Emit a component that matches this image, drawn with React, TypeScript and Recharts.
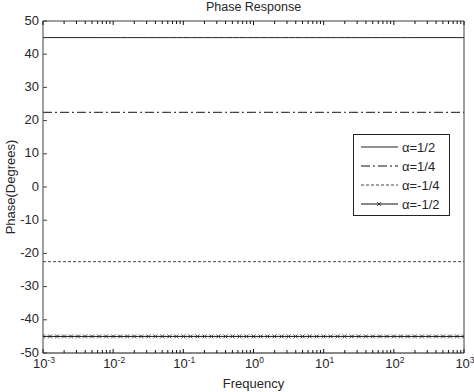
import { Line, LineChart, XAxis, YAxis } from "recharts";

// frequency points (log10 exponent), -3 .. 3
const freqExponents = [
  -3, -2.9, -2.8, -2.7, -2.6, -2.5, -2.4, -2.3, -2.2, -2.1,
  -2, -1.9, -1.8, -1.7, -1.6, -1.5, -1.4, -1.3, -1.2, -1.1,
  -1, -0.9, -0.8, -0.7, -0.6, -0.5, -0.4, -0.3, -0.2, -0.1,
  0, 0.1, 0.2, 0.3, 0.4, 0.5, 0.6, 0.7, 0.8, 0.9,
  1, 1.1, 1.2, 1.3, 1.4, 1.5, 1.6, 1.7, 1.8, 1.9,
  2, 2.1, 2.2, 2.3, 2.4, 2.5, 2.6, 2.7, 2.8, 2.9, 3,
];

const seriesNames = ["α=1/2", "α=1/4", "α=-1/4", "α=-1/2"];
const seriesPhase = [45, 22.5, -22.5, -45];

const decades = [-3, -2, -1, 0, 1, 2, 3];
const minorMult = [1, 2, 3, 4, 5, 6, 7, 8, 9];
const yTicks = [-50, -40, -30, -20, -10, 0, 10, 20, 30, 40, 50];

const xTicks: number[] = [];
decades.forEach((d) => {
  if (d === 3) {
    xTicks.push(1000);
    return;
  }
  minorMult.forEach((m) => xTicks.push(Number((m * Math.pow(10, d)).toPrecision(3))));
});

const data = freqExponents.map((e) => {
  const row: Record<string, number> = { f: Math.pow(10, e) };
  seriesNames.forEach((n, i) => {
    row[n] = seriesPhase[i];
  });
  return row;
});

const FONT = "'Liberation Sans', Arial, sans-serif";
const TXT = "#262626";
const AX = "#404040";

const isDecade = (v: number) => {
  const l = Math.log10(v);
  return Math.abs(l - Math.round(l)) < 1e-6;
};

const BottomTick = (props: any) => {
  const { x, y, payload } = props;
  const v = payload.value;
  const major = isDecade(v);
  const exp = Math.round(Math.log10(v));
  return (
    <g>
      <line x1={x} y1={y} x2={x} y2={y - (major ? 4 : 3)} stroke="#111" strokeWidth={1} />
      {major && (
        <text x={x + 1} y={y + 15} fontFamily={FONT} fontSize={13} fill={TXT} textAnchor="middle">
          <tspan>10</tspan>
          <tspan dy={-5} fontSize={8.5}>{exp}</tspan>
        </text>
      )}
    </g>
  );
};

const TopTick = (props: any) => {
  const { x, y, payload } = props;
  const major = isDecade(payload.value);
  return <line x1={x} y1={y} x2={x} y2={y + (major ? 4 : 3)} stroke="#111" strokeWidth={1} />;
};

const LeftTick = (props: any) => {
  const { x, y, payload } = props;
  return (
    <g>
      <line x1={x} y1={y} x2={x + 4} y2={y} stroke={AX} strokeWidth={1} />
      <text x={x - 4} y={y + 3.5} fontFamily={FONT} fontSize={13} fill={TXT} textAnchor="end">
        {payload.value}
      </text>
    </g>
  );
};

const RightTick = (props: any) => {
  const { x, y } = props;
  return <line x1={x} y1={y} x2={x - 4} y2={y} stroke={AX} strokeWidth={1} />;
};

const XDot = (props: any) => {
  const { cx, cy } = props;
  if (cx == null || cy == null) return null;
  const s = 2;
  return (
    <g stroke="#222" strokeWidth={0.8}>
      <line x1={cx - s} y1={cy - s} x2={cx + s} y2={cy + s} />
      <line x1={cx - s} y1={cy + s} x2={cx + s} y2={cy - s} />
    </g>
  );
};

const dashes = [undefined, "9 3 2 3", "3 2", undefined];
const colors = ["#222", "#111", "#444", "#111"];

const LegendBox = () => (
  <svg width={97} height={82}>
    <rect x={0.5} y={0.5} width={96} height={81} fill="#fff" stroke="#222" />
    {seriesNames.map((n, i) => {
      const yy = 13 + i * 19;
      return (
        <g key={n}>
          <line x1={8} y1={yy} x2={45} y2={yy} stroke={colors[i]} strokeDasharray={dashes[i]} />
          {i === 3 && <XDot cx={26} cy={yy} />}
          <text x={49} y={yy + 4.5} fontFamily={FONT} fontSize={13} fill={TXT}>
            {n}
          </text>
        </g>
      );
    })}
  </svg>
);

export default function App() {
  return (
    <div style={{ position: "absolute", left: 0, top: 0, width: 474, height: 392, background: "#fff" }}>
      <LineChart
        width={474}
        height={392}
        data={data}
        margin={{ top: 0, right: 0, bottom: 0, left: 0 }}
        style={{ position: "absolute", left: 0, top: 0 }}
      >
        <XAxis
          xAxisId="b"
          dataKey="f"
          type="number"
          scale="log"
          domain={[0.001, 1000]}
          allowDataOverflow
          ticks={xTicks}
          interval={0}
          height={39}
          tickSize={0}
          tickMargin={0}
          tickLine={false}
          stroke="#111"
          tick={<BottomTick />}
        />
        <XAxis
          xAxisId="t"
          orientation="top"
          dataKey="f"
          type="number"
          scale="log"
          domain={[0.001, 1000]}
          allowDataOverflow
          ticks={xTicks}
          interval={0}
          height={21}
          tickSize={0}
          tickMargin={0}
          tickLine={false}
          stroke={AX}
          tick={<TopTick />}
        />
        <YAxis
          yAxisId="l"
          domain={[-50, 50]}
          ticks={yTicks}
          interval={0}
          width={43}
          tickSize={0}
          tickMargin={0}
          tickLine={false}
          stroke={AX}
          tick={<LeftTick />}
        />
        <YAxis
          yAxisId="r"
          orientation="right"
          domain={[-50, 50]}
          ticks={yTicks}
          interval={0}
          width={10}
          tickSize={0}
          tickMargin={0}
          tickLine={false}
          stroke={AX}
          tick={<RightTick />}
        />
        {seriesNames.map((n, i) => (
          <Line
            key={n}
            xAxisId="b"
            yAxisId="l"
            dataKey={n}
            type="linear"
            stroke={colors[i]}
            strokeWidth={1}
            strokeDasharray={dashes[i]}
            dot={i === 3 ? <XDot /> : false}
            isAnimationActive={false}
          />
        ))}
      </LineChart>
      <div
        style={{
          position: "absolute", left: 43, width: 421, top: 0, textAlign: "center",
          fontFamily: FONT, fontSize: 12.5, color: TXT, lineHeight: "15px",
        }}
      >
        Phase Response
      </div>
      <div
        style={{
          position: "absolute", left: 43, width: 421, top: 376, textAlign: "center",
          fontFamily: FONT, fontSize: 13, color: TXT, lineHeight: "15px",
        }}
      >
        Frequency
      </div>
      <div
        style={{
          position: "absolute", left: 10, top: 187, transform: "translate(-50%, -50%) rotate(-90deg)",
          fontFamily: FONT, fontSize: 13, color: TXT, whiteSpace: "nowrap", lineHeight: "15px",
        }}
      >
        Phase(Degrees)
      </div>
      <div style={{ position: "absolute", left: 353, top: 134, width: 97, height: 82 }}>
        <LegendBox />
      </div>
    </div>
  );
}
